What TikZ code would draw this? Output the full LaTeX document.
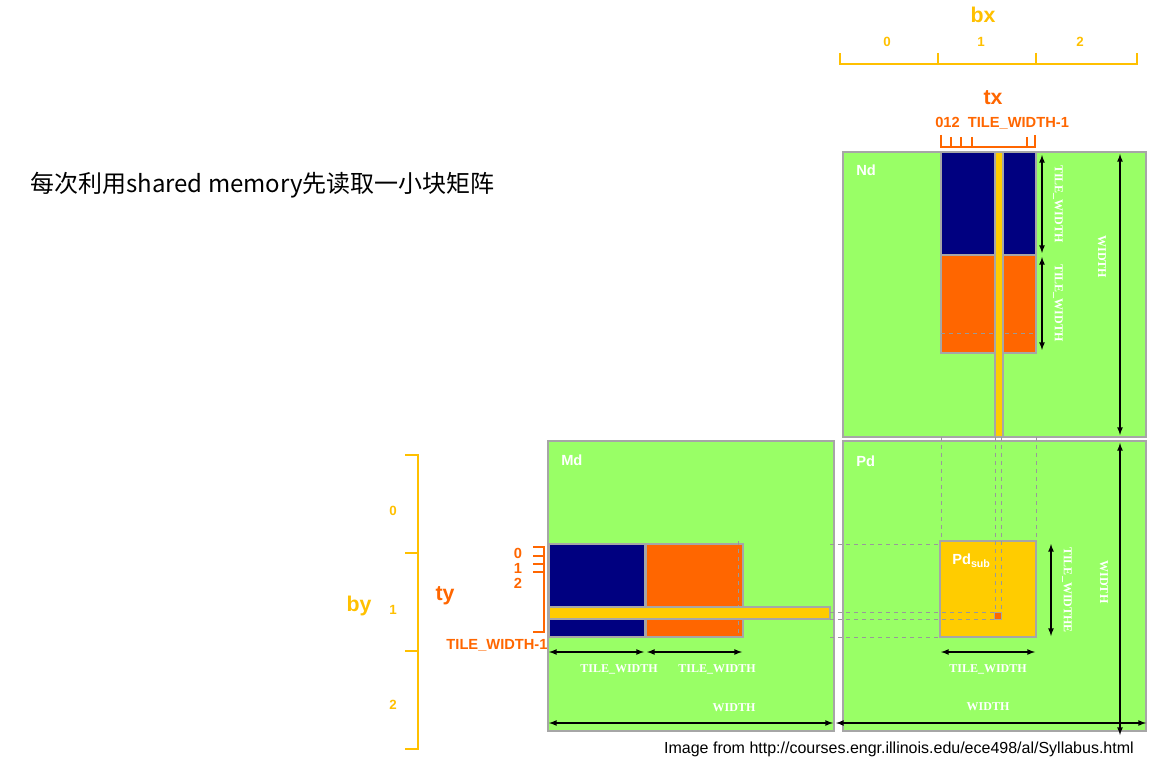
\documentclass[tikz,border=0pt]{standalone}
\usepackage{fontspec}
\setmainfont{Liberation Sans}
\newfontfamily\cjk{Noto Sans CJK SC}
\newfontfamily\tnr{Liberation Serif}
\usetikzlibrary{positioning}
\definecolor{matgreen}{HTML}{99FF66}
\definecolor{tilenavy}{HTML}{000080}
\definecolor{tileorange}{HTML}{FF6600}
\definecolor{tileyellow}{HTML}{FFCC00}
\definecolor{rulegold}{HTML}{FFC000}
\tikzset{
  matbox/.style={fill=matgreen,draw=gray!70,line width=0.8pt},
  tilebox/.style={draw=gray!70,line width=0.8pt},
  guide/.style={draw=gray!80,dashed,line width=0.6pt},
  dim/.style={<->,>=latex,line width=1pt},
  dimlabel/.style={text=white,font=\tnr\bfseries\fontsize{9}{9}\selectfont,inner sep=0pt},
  matname/.style={text=white,font=\bfseries\fontsize{11}{11}\selectfont,inner sep=0pt},
  goldrule/.style={draw=rulegold,line width=2pt},
  orangerule/.style={draw=tileorange,line width=2pt},
  goldtext/.style={text=rulegold,font=\bfseries,inner sep=0pt},
  orangetext/.style={text=tileorange,font=\bfseries,inner sep=0pt}
}
\begin{document}
\begin{tikzpicture}[x=0.75pt,y=-0.75pt]
  \useasboundingbox (0,0) rectangle (1156,762);

  % title and source
  \node[anchor=west,inner sep=0pt,font=\cjk\fontsize{18}{18}\selectfont] (title) at (30,185) {每次利用shared memory先读取一小块矩阵};
  \node[anchor=east,inner sep=0pt,font=\fontsize{12}{12}\selectfont] (src) at (1134,749) {Image from http://courses.engr.illinois.edu/ece498/al/Syllabus.html};

  % matrices
  \draw[matbox] (843,152) rectangle (1146,437);
  \draw[matbox] (843,441) rectangle (1146,731);
  \draw[matbox] (548,441) rectangle (834,731);
  \node[matname,anchor=west] (nd) at (856,170) {Nd};
  \node[matname,anchor=west] (pd) at (856,461) {Pd};
  \node[matname,anchor=west] (md) at (561,460) {Md};

  % tiles of Nd
  \draw[tilebox,fill=tilenavy] (941,152) rectangle (1036,255);
  \draw[tilebox,fill=tileorange] (941,255) rectangle (1036,353);
  \draw[guide] (941,333) -- (1036,333);
  \draw[tilebox,fill=tileyellow] (995,152) rectangle (1003,437);

  % tiles of Md
  \draw[tilebox,fill=tilenavy] (549,544) rectangle (645,637);
  \draw[tilebox,fill=tileorange] (646,544) rectangle (743,637);
  \draw[guide] (738,541) -- (738,637);
  \draw[tilebox,fill=tileyellow] (549,607) rectangle (830,619);

  % Pd sub-block
  \draw[tilebox,fill=tileyellow] (940,541) rectangle (1036,637);
  \node[matname,anchor=west] (pdsub) at (952,561) {Pd\textsubscript{\fontsize{8}{8}\selectfont sub}};
  \draw[guide] (941,437) -- (941,541);
  \draw[guide] (1036,437) -- (1036,541);
  \draw[guide] (995,437) -- (995,619);
  \draw[guide] (1001,437) -- (1001,612);
  \draw[guide] (830,544) -- (940,544);
  \draw[guide] (830,637) -- (940,637);
  \draw[guide] (830,612) -- (1001,612);
  \draw[guide] (830,619) -- (995,619);
  \draw[gray!70,fill=tileorange] (994,612) rectangle (1001,619);

  % dimensions of Nd
  \draw[dim] (1042,155) -- (1042,253);
  \draw[dim] (1042,257) -- (1042,350);
  \node[dimlabel,rotate=-90] (ndt1) at (1058,204) {TILE\_WIDTH};
  \node[dimlabel,rotate=-90] (ndt2) at (1058,303) {TILE\_WIDTH};
  \draw[dim] (1120,154) -- (1120,435);
  \node[dimlabel,rotate=-90] (ndw) at (1102,257) {WIDTH};

  % dimensions of Pd
  \draw[dim] (1051,544) -- (1051,636);
  \node[dimlabel,rotate=-90] (pdt) at (1067,590) {TILE\_WIDTHE};
  \draw[dim] (1120,443) -- (1120,735);
  \node[dimlabel,rotate=-90] (pdw) at (1104,582) {WIDTH};
  \draw[dim] (941,652) -- (1035,652);
  \node[dimlabel] (pdtw) at (988,669) {TILE\_WIDTH};
  \draw[dim] (836,723) -- (1146,723);
  \node[dimlabel] (pdww) at (988,707) {WIDTH};

  % dimensions of Md
  \draw[dim] (549,652) -- (644,652);
  \draw[dim] (647,652) -- (742,652);
  \node[dimlabel] (mdt1) at (619,669) {TILE\_WIDTH};
  \node[dimlabel] (mdt2) at (717,669) {TILE\_WIDTH};
  \draw[dim] (549,723) -- (833,723);
  \node[dimlabel] (mdw) at (734,708) {WIDTH};

  % bx ruler
  \draw[goldrule] (840,53) -- (840,64) -- (1137,64) -- (1137,53);
  \foreach \xt in {938,1036} \draw[goldrule] (\xt,53) -- (\xt,64);
  \node[goldtext,font=\bfseries\fontsize{16}{16}\selectfont] (bx) at (983,15) {bx};
  \foreach \i/\xl in {0/887,1/981,2/1080}
    \node[goldtext,font=\bfseries\fontsize{10}{10}\selectfont] (bx\i) at (\xl,42) {\i};

  % tx ruler
  \draw[orangerule] (941,135) -- (941,147) -- (1035,147) -- (1035,135);
  \foreach \xt in {951,961,972,1027} \draw[orangerule] (\xt,137) -- (\xt,147);
  \node[orangetext,font=\bfseries\fontsize{16}{16}\selectfont] (tx) at (993,98) {tx};
  \node[orangetext,anchor=west,font=\bfseries\fontsize{11}{11}\selectfont] (txl) at (935,123) {012\ \ TILE\_WIDTH-1};

  % by ruler
  \draw[goldrule] (405,455) -- (418,455) -- (418,749) -- (405,749);
  \foreach \yt in {553,651} \draw[goldrule] (405,\yt) -- (418,\yt);
  \node[goldtext,font=\bfseries\fontsize{16}{16}\selectfont] (by) at (359,606) {by};
  \foreach \i/\yl in {0/511,1/610,2/705}
    \node[goldtext,font=\bfseries\fontsize{10}{10}\selectfont] (by\i) at (393,\yl) {\i};

  % ty ruler
  \draw[orangerule] (533,547) -- (544,547) -- (544,632) -- (533,632);
  \foreach \yt in {556,564,572} \draw[orangerule] (533,\yt) -- (544,\yt);
  \node[orangetext,font=\bfseries\fontsize{16}{16}\selectfont] (ty) at (445,596) {ty};
  \foreach \i/\yl in {0/553,1/568,2/583}
    \node[orangetext,font=\bfseries\fontsize{11}{11}\selectfont] (ty\i) at (518,\yl) {\i};
  \node[orangetext,font=\bfseries\fontsize{11}{11}\selectfont] (tyl) at (497,645) {TILE\_WIDTH-1};
\end{tikzpicture}
\end{document}
